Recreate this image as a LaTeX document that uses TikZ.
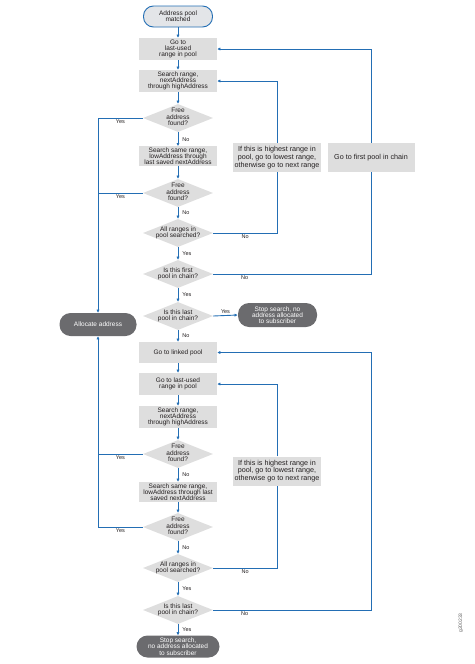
\documentclass[tikz,border=0pt]{standalone}
\usepackage{fontspec}
\setmainfont{Liberation Sans}
\usetikzlibrary{shapes.geometric,arrows.meta}
\definecolor{ln}{HTML}{236EB4}
\definecolor{gbox}{HTML}{DEDEDE}
\definecolor{gstart}{HTML}{E3E5E8}
\definecolor{dterm}{HTML}{6B6B6E}
\definecolor{txt}{HTML}{231F20}
\newcommand\boxfont{\fontsize{6.5}{6.2}\selectfont}
\newcommand\notefont{\fontsize{7.2}{6.6}\selectfont}
\newcommand\labfont{\fontsize{5.5}{6}\selectfont}
\newcommand\dtxt[1]{\raisebox{-1.6pt}[0pt][0pt]{\makebox[0pt]{\begin{tabular}{@{}c@{}}#1\end{tabular}}}}
\tikzset{
  base/.style={font=\boxfont, text=txt, align=center, inner sep=1pt},
  procbox/.style={base, rectangle, fill=gbox, minimum width=78pt, minimum height=22pt},
  decis/.style={diamond, fill=gbox, font=\boxfont, text=txt, minimum width=70pt, minimum height=28pt, inner sep=0pt},
  termdark/.style={base, rectangle, rounded corners=11pt, fill=dterm, text=white},
  termstart/.style={base, rectangle, rounded corners=10pt, fill=gstart, draw=ln, line width=0.9pt},
  notebox/.style={rectangle, fill=gbox, font=\notefont, text=txt, align=center, minimum width=88pt, minimum height=29pt, inner sep=1pt},
  lab/.style={font=\labfont, text=txt, inner sep=1.5pt},
  flow/.style={draw=ln, line width=0.9pt, -{Latex[length=3.2pt,width=3.2pt]}},
  plain/.style={draw=ln, line width=0.9pt},
}
\begin{document}
\begin{tikzpicture}[x=1pt,y=-1pt]
\useasboundingbox (0,0) rectangle (474,664);
% nodes, first group
\node[termstart, minimum width=69pt, minimum height=21pt] (start) at (178,16.5) {Address pool\\matched};
\node[procbox] (b1) at (178,49) {Go to\\last-used\\range in pool};
\node[procbox] (b2) at (178,81) {Search range,\\nextAddress\\through highAddress};
\node[decis] (d1) at (178,118) {\dtxt{Free\\address\\found?}};
\node[procbox, minimum height=19pt] (b3) at (178,156) {Search same range,\\lowAddress through\\last saved nextAddress};
\node[decis] (d2) at (178,193) {\dtxt{Free\\address\\found?}};
\node[decis] (d3) at (178,233) {\dtxt{All ranges in\\pool searched?}};
\node[decis] (d4) at (178,274) {\dtxt{Is this first\\pool in chain?}};
\node[decis] (d5) at (178,316) {\dtxt{Is this last\\pool in chain?}};
\node[termdark, minimum width=79pt, minimum height=24pt] (stop1) at (277.5,315) {Stop search, no\\address allocated\\to subscriber};
\node[termdark, minimum width=77pt, minimum height=23pt] (alloc) at (98,324.5) {Allocate address};
% second group
\node[procbox, minimum height=21pt] (b4) at (178,352.5) {Go to linked pool};
\node[procbox] (b5) at (178,384) {Go to last-used\\range in pool};
\node[procbox] (b6) at (178,417) {Search range,\\nextAddress\\through highAddress};
\node[decis] (d6) at (178,454) {\dtxt{Free\\address\\found?}};
\node[procbox, minimum height=20pt] (b7) at (178,492) {Search same range,\\lowAddress through last\\saved nextAddress};
\node[decis] (d7) at (178,527) {\dtxt{Free\\address\\found?}};
\node[decis] (d8) at (178,568) {\dtxt{All ranges in\\pool searched?}};
\node[decis] (d9) at (178,610) {\dtxt{Is this last\\pool in chain?}};
\node[termdark, minimum width=83pt, minimum height=22pt] (stop2) at (178,646.5) {Stop search,\\no address allocated\\to subscriber};
% notes
\node[notebox] (n1) at (277,157.5) {If this is highest range in\\pool, go to lowest range,\\otherwise go to next range};
\node[notebox, minimum width=87pt] (n2) at (371,157.5) {Go to first pool in chain};
\node[notebox] (n3) at (277,471) {If this is highest range in\\pool, go to lowest range,\\otherwise go to next range};
\coordinate (r2) at (371,610);
\node[font=\fontsize{5}{5}\selectfont, text=black!60, rotate=90, inner sep=0pt] (gid) at (461,623) {g200233};
% main column
\draw[flow] (start.south) -- (b1.north);
\draw[flow] (b1.south) -- (b2.north);
\draw[flow] (b2.south) -- (d1.north);
\draw[flow] (d1.south) -- node[lab, anchor=west, xshift=2.5pt]{No} (b3.north);
\draw[flow] (b3.south) -- (d2.north);
\draw[flow] (d2.south) -- node[lab, anchor=west, xshift=2.5pt]{No} (d3.north);
\draw[flow] (d3.south) -- node[lab, anchor=west, xshift=2.5pt]{Yes} (d4.north);
\draw[flow] (d4.south) -- node[lab, anchor=west, xshift=2.5pt]{Yes} (d5.north);
\draw[flow] (d5.south) -- node[lab, anchor=west, xshift=2.5pt]{No} (b4.north);
\draw[flow] (b4.south) -- (b5.north);
\draw[flow] (b5.south) -- (b6.north);
\draw[flow] (b6.south) -- (d6.north);
\draw[flow] (d6.south) -- node[lab, anchor=west, xshift=2.5pt]{No} (b7.north);
\draw[flow] (b7.south) -- (d7.north);
\draw[flow] (d7.south) -- node[lab, anchor=west, xshift=2.5pt]{No} (d8.north);
\draw[flow] (d8.south) -- node[lab, anchor=west, xshift=2.5pt]{Yes} (d9.north);
\draw[flow] (d9.south) -- node[lab, anchor=west, xshift=2.5pt]{Yes} (stop2.north);
% left yes branches
\draw[flow] (d1.west) -| node[lab, below, pos=0.25]{Yes} (alloc.north);
\draw[plain] (d2.west) -- node[lab, below]{Yes} (d2.west -| alloc.north);
\draw[flow] (d7.west) -| node[lab, below, pos=0.25]{Yes} (alloc.south);
\draw[plain] (d6.west) -- node[lab, below]{Yes} (d6.west -| alloc.south);
% right loops
\draw[plain] (d3.east) -| node[lab, below, pos=0.25]{No} (n1.south);
\draw[flow] (n1.north) |- (b2.east);
\draw[plain] (d4.east) -| node[lab, below, pos=0.1]{No} (n2.south);
\draw[flow] (n2.north) |- (b1.east);
\draw[flow] (d5.east) -- node[lab, above]{Yes} (stop1.west);
\draw[plain] (d8.east) -| node[lab, below, pos=0.25]{No} (n3.south);
\draw[flow] (n3.north) |- (b5.east);
\draw[flow] (d9.east) -- node[lab, below, pos=0.2]{No} (r2) |- (b4.east);
\end{tikzpicture}
\end{document}
